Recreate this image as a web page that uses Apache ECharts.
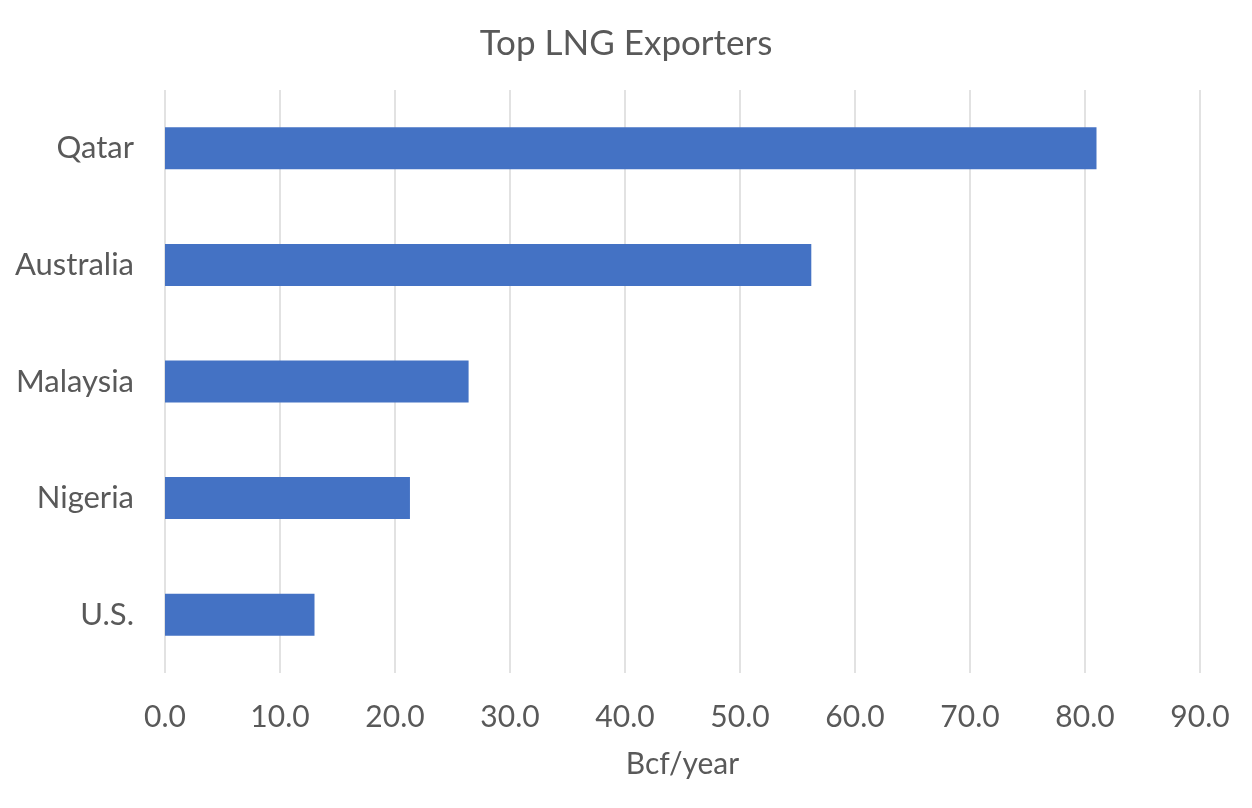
<!DOCTYPE html>
<html>
<head>
<meta charset="utf-8">
<script src="https://cdn.jsdelivr.net/npm/echarts@6/dist/echarts.min.js"></script>
<style>
  html, body { margin: 0; padding: 0; background: #fff; }
  #chart { width: 1252px; height: 808px; }
</style>
</head>
<body>
<div id="chart"></div>
<script>
var countries = ['Qatar', 'Australia', 'Malaysia', 'Nigeria', 'U.S.'];
var exports = [81.0, 56.2, 26.4, 21.3, 13.0];
var xTicks = [0, 10, 20, 30, 40, 50, 60, 70, 80, 90];

var font = 'Lato';
var textColor = '#595959';

var myChart = echarts.init(document.getElementById('chart'));

var option = {
    backgroundColor: '#fff',
    title: {
        text: 'Top LNG Exporters',
        left: 'center',
        top: 21,
        textStyle: { fontFamily: font, fontSize: 35, fontWeight: 'normal', color: textColor }
    },
    grid: { left: 165, right: 52, top: 90, bottom: 135 },
    xAxis: {
        type: 'value',
        min: xTicks[0],
        max: xTicks[xTicks.length - 1],
        interval: 10,
        name: 'Bcf/year',
        nameLocation: 'middle',
        nameGap: 76,
        nameTextStyle: { fontFamily: font, fontSize: 30, color: textColor },
        axisLine: { show: false },
        axisTick: { show: false },
        axisLabel: {
            fontFamily: font, fontSize: 30, color: textColor, margin: 29,
            formatter: function (v) { return v.toFixed(1); }
        },
        splitLine: { lineStyle: { color: '#d9d9d9', width: 1.5 } }
    },
    yAxis: {
        type: 'category',
        data: countries,
        inverse: true,
        axisLine: { show: false },
        axisTick: { show: false },
        axisLabel: { fontFamily: font, fontSize: 31, color: textColor, margin: 31 }
    },
    series: [{
        type: 'bar',
        data: exports,
        barWidth: 42,
        itemStyle: { color: '#4472c4' },
        silent: true
    }]
};

myChart.setOption(option);
</script>
</body>
</html>
